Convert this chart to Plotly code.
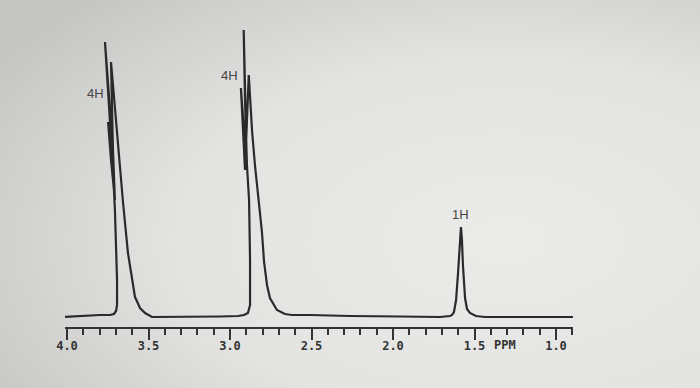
import base64
import plotly.graph_objects as go

# Chemical shift (ppm) and recorder intensity (arbitrary units)
ppm = [4.025, 3.920, 3.798, 3.736, 3.712, 3.699, 3.693, 3.693, 3.699, 3.706, 3.718, 3.736, 3.755, 3.767,
       3.736, 3.712, 3.748, 3.730, 3.706, 3.718, 3.730, 3.706, 3.687, 3.675,
       3.656, 3.626, 3.601, 3.583, 3.552, 3.521, 3.479, 3.307, 3.184, 3.061, 2.951,
       2.914, 2.890, 2.877, 2.877, 2.883, 2.896, 2.908, 2.916,
       2.896, 2.933, 2.908, 2.885, 2.865, 2.847,
       2.824, 2.804, 2.791, 2.773, 2.755, 2.712, 2.663, 2.620, 2.509, 2.264, 1.957, 1.712, 1.650,
       1.638, 1.626, 1.613, 1.601, 1.589, 1.583, 1.577, 1.571, 1.558, 1.546, 1.528, 1.491,
       1.436, 1.221, 0.896]
intensity = [0, 1, 2, 2, 3, 6, 12, 37, 77, 107, 147, 197, 237, 275,
             207, 142, 195, 157, 117, 167, 255, 207, 167, 145,
             114, 64, 37, 20, 9, 4, 0, 0, 0, 0.5, 1,
             2, 4, 12, 57, 117, 152, 217, 287,
             147, 229, 147, 242, 187, 152,
             119, 85, 55, 32, 19, 7, 3, 2, 2, 1, 0.5, 0, 1,
             2, 5, 17, 44, 77, 90, 77, 52, 19, 8, 4, 1,
             0, 0, 0]

# Integration labels
int_labels = ["4H", "4H", "1H"]
int_x = [3.828, 3.006, 1.583]
int_y = [224, 242, 103]

# Axis ticks
major_ticks = [4.0, 3.5, 3.0, 2.5, 2.0, 1.5, 1.0]
major_text = ["4.0", "3.5", "3.0", "2.5", "2.0", "1.5", "1.0"]
unit_label = "PPM"
unit_x = 1.31

W, H = 700, 388
ml, mr, mt, mb = 65, 127, 10, 61
pw, ph = W - ml - mr, H - mt - mb

svg = f'''<svg xmlns="http://www.w3.org/2000/svg" width="{W}" height="{H}">
<defs><radialGradient id="g" cx="72%" cy="62%" r="85%">
<stop offset="0%" stop-color="#ebecea"/><stop offset="55%" stop-color="#e3e4e2"/>
<stop offset="100%" stop-color="#c6c7c5"/></radialGradient></defs>
<rect width="{W}" height="{H}" fill="url(#g)"/></svg>'''
bg_src = "data:image/svg+xml;base64," + base64.b64encode(svg.encode()).decode()

fig = go.Figure()
fig.add_trace(go.Scatter(x=ppm, y=intensity, mode="lines",
                         line=dict(color="#2a2a2a", width=2.2), hoverinfo="skip"))

for t, x, y in zip(int_labels, int_x, int_y):
    fig.add_annotation(x=x, y=y, text=t, showarrow=False,
                       font=dict(family="Liberation Sans, Arial", size=13, color="#454545"))

fig.add_annotation(x=unit_x, xref="x", y=-18 / ph, yref="paper", yanchor="middle",
                   text=unit_label, showarrow=False,
                   font=dict(family="DejaVu Sans Mono", size=12, color="#333333", weight="bold"))

fig.add_layout_image(dict(source=bg_src, xref="paper", yref="paper",
                          x=-ml / pw, y=1 + mt / ph, sizex=W / pw, sizey=H / ph,
                          sizing="stretch", xanchor="left", yanchor="top", layer="below"))

fig.update_layout(
    width=W, height=H, margin=dict(l=ml, r=mr, t=mt, b=mb),
    paper_bgcolor="#e2e3e1", plot_bgcolor="rgba(0,0,0,0)",
    showlegend=False,
    xaxis=dict(range=[4.0 + 2 / 163, 1.0 - 17 / 163], showgrid=False, zeroline=False,
               showline=True, linecolor="#333333", linewidth=2,
               ticks="outside", tickvals=major_ticks, ticktext=major_text,
               ticklen=11, tickwidth=2, tickcolor="#333333", ticklabelstandoff=-4,
               tickfont=dict(family="DejaVu Sans Mono", size=12, color="#333333", weight="bold"),
               minor=dict(dtick=0.1, tick0=0, ticks="outside", ticklen=6, tickwidth=1.5,
                          tickcolor="#333333", showgrid=False)),
    yaxis=dict(range=[-10, 307], visible=False),
)

fig.write_html("out.html")
